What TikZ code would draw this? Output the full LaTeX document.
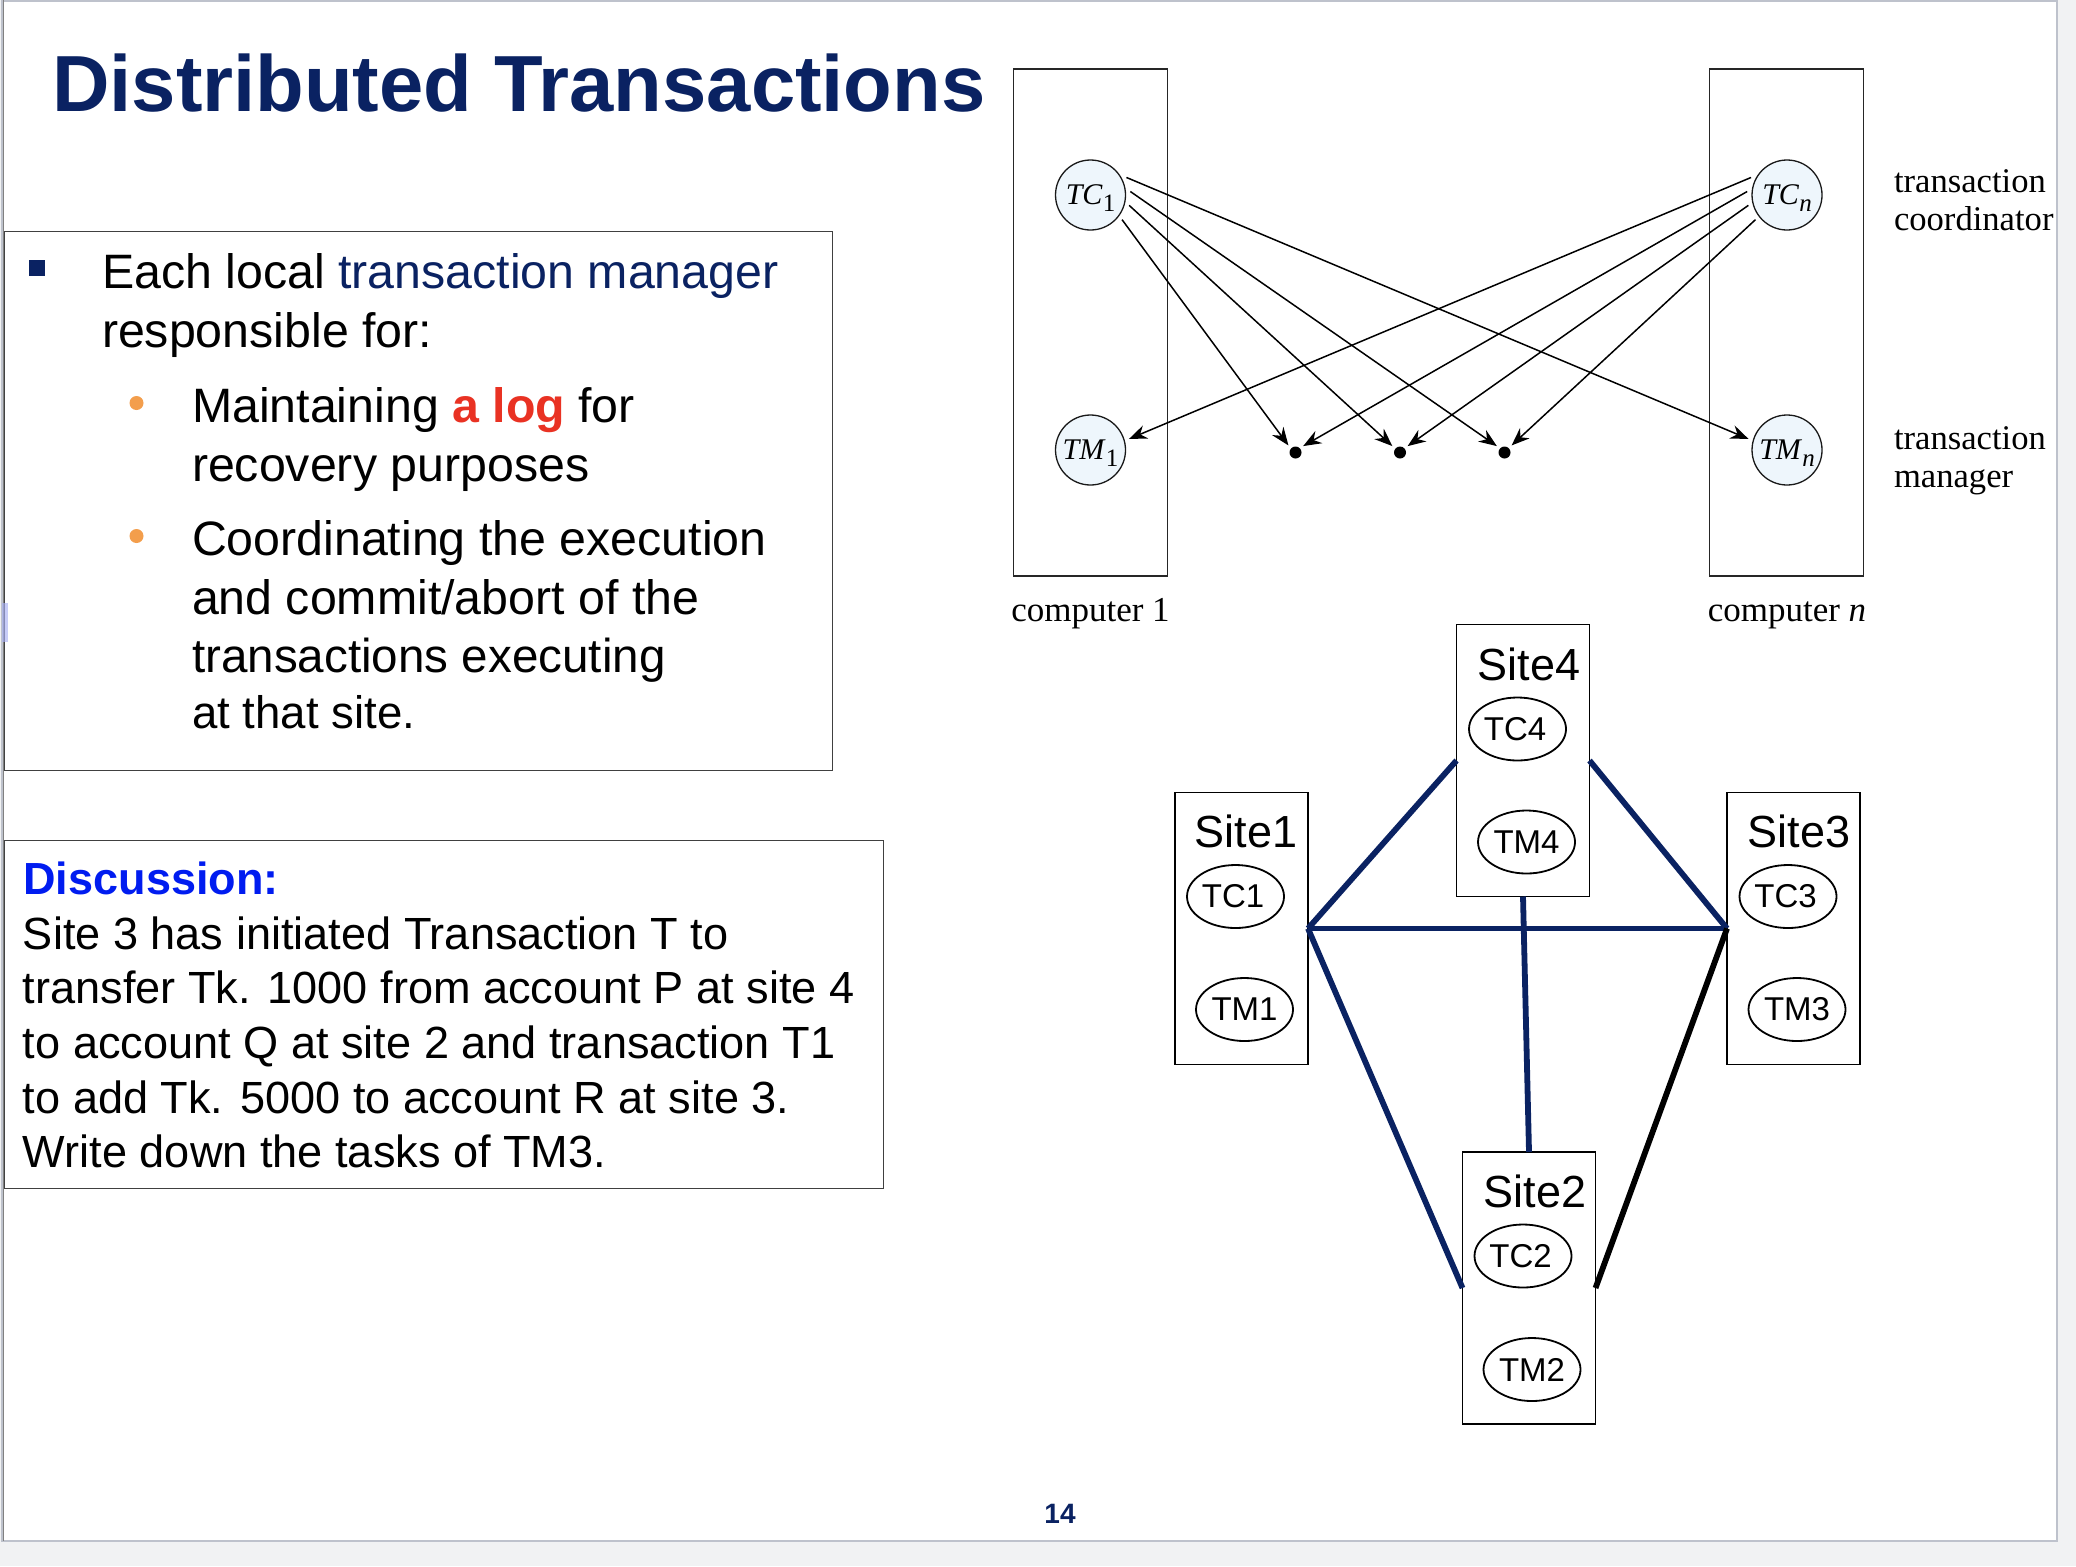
\documentclass[tikz,border=0pt]{standalone}
\usepackage{fontspec}
\setmainfont{Liberation Sans}
\newfontfamily\serifbook{Liberation Serif}
\usetikzlibrary{arrows.meta,shapes.geometric}
\definecolor{navy}{RGB}{10,34,98}
\definecolor{orangeb}{RGB}{243,158,76}
\definecolor{redlog}{RGB}{233,50,35}
\definecolor{bluedisc}{RGB}{0,28,240}
\definecolor{tcfill}{RGB}{238,246,252}
\definecolor{pagebg}{RGB}{241,242,243}
\definecolor{pageedge}{RGB}{190,194,204}
\definecolor{markblue}{RGB}{170,178,245}
\newcommand{\fs}[1]{\fontsize{#1}{#1}\selectfont}
\newcommand{\subsc}[1]{\smash{\raisebox{-7pt}{\fs{25}#1}}}
\tikzset{
  x=1pt,y=-1pt,
  txt/.style={anchor=base west,inner sep=0,outer sep=0,font=\fs{48.3}},
  disc/.style={anchor=base west,inner sep=0,outer sep=0,font=\fs{45.1}},
  lab/.style={anchor=base west,inner sep=0,outer sep=0,font=\serifbook\fs{34.6}},
  complab/.style={anchor=base,inner sep=0,outer sep=0,font=\serifbook\fs{35}},
  textbox/.style={draw=black!75,line width=1pt,fill=white,inner sep=0,outer sep=0},
  compbox/.style={draw=black!85,line width=1.6pt,inner sep=0,outer sep=0,minimum width=154pt,minimum height=507pt},
  tcnode/.style={circle,draw=black!90,line width=1.3pt,fill=tcfill,inner sep=0,minimum size=70pt,outer sep=5pt,font=\serifbook\fs{30}},
  jdot/.style={circle,fill=black,inner sep=0,minimum size=12pt,outer sep=4pt},
  arr/.style={line width=1.5pt,-{Stealth[length=18pt,width=14pt,inset=6pt]}},
  sitebox/.style={draw=black,line width=1.8pt,inner sep=0,outer sep=0,minimum width=133pt,minimum height=272pt},
  sitelab/.style={anchor=base,inner sep=0,outer sep=0,font=\fs{45}},
  ell/.style={ellipse,draw=black,line width=1.8pt,inner sep=0,minimum width=97pt,minimum height=63pt,font=\fs{33}},
  link/.style={navy,line width=5.8pt},
}
\begin{document}
\begin{tikzpicture}
\useasboundingbox (0,0) rectangle (2076,1566);
\fill[pagebg] (0,0) rectangle (2076,1566);
\draw[pageedge,line width=2pt,fill=white] (2,1) rectangle (2057,1541);
\draw[black!50,line width=1.2pt] (3.8,0) -- (3.8,1541);

% title
\node[anchor=base west,inner sep=0,text=navy,font=\bfseries\fs{79.6}] (title) at (52,111) {Distributed Transactions};

% first text box
\node[textbox,anchor=north west,minimum width=828pt,minimum height=539pt] (box1) at (4,231) {};
\node[fill=navy,inner sep=0,minimum size=16pt] (sq) at (37,268) {};
\node[txt] (l1) at (102,288) {Each local \textcolor{navy}{transaction manager}};
\node[txt] (l2) at (102,347) {responsible for:};
\node[circle,fill=orangeb,inner sep=0,minimum size=14pt] (b1) at (136.5,403) {};
\node[txt] (l3) at (192,422.5) {Maintaining \textcolor{redlog}{\bfseries a log} for};
\node[txt] (l4) at (192,481) {recovery purposes};
\node[circle,fill=orangeb,inner sep=0,minimum size=14pt] (b2) at (136.5,536) {};
\node[txt] (l5) at (192,555) {Coordinating the execution};
\node[txt] (l6) at (192,614) {and commit/abort of the};
\node[txt,font=\fs{47.6}] (l7) at (192,672) {transactions executing};
\node[txt,font=\fs{45.6}] (l8) at (192,728) {at that site.};

% discussion box
\node[textbox,anchor=north west,minimum width=879pt,minimum height=348pt] (box2) at (4,840) {};
\node[disc,text=bluedisc,font=\bfseries\fs{45}] (d0) at (23.5,894) {Discussion:};
\node[disc] (d1) at (23,949) {Site 3 has initiated Transaction T to};
\node[disc] (d2) at (23,1003) {transfer Tk. 1000 from account P at site 4};
\node[disc] (d3) at (23,1058.5) {to account Q at site 2 and transaction T1};
\node[disc] (d4) at (23,1113.5) {to add Tk. 5000 to account R at site 3.};
\node[disc] (d5) at (23,1167.5) {Write down the tasks of TM3.};

% page number
\node[anchor=base,inner sep=0,text=navy,font=\bfseries\fs{28}] (pg) at (1060,1523) {14};

% computers
\node[compbox] (comp1) at (1090.5,322.5) {};
\node[compbox] (compn) at (1786.5,322.5) {};
\node[tcnode] (tc1) at (1090.5,195) {\textit{TC}\subsc{1}};
\node[tcnode] (tm1) at (1090.5,450) {\textit{TM}\subsc{1}};
\node[tcnode] (tcn) at (1787,195) {\textit{TC}\subsc{\textit{n}}};
\node[tcnode] (tmn) at (1787,450) {\textit{TM}\subsc{\textit{n}}};
\node[jdot] (p1) at (1295.5,452.5) {};
\node[jdot] (p2) at (1400,452.5) {};
\node[jdot] (p3) at (1504.5,452.5) {};

\draw[arr] (tc1.26) -- (tmn.164);
\draw[arr] (tc1.5) -- (p3.140);
\draw[arr] (tc1.-15) -- (p2.140);
\draw[arr] (tc1.-38) -- (p1.135);
\draw[arr] (tcn.154) -- (tm1.16);
\draw[arr] (tcn.175) -- (p1.40);
\draw[arr] (tcn.195) -- (p2.40);
\draw[arr] (tcn.218) -- (p3.45);

\node[lab] (t1) at (1894,192) {transaction};
\node[lab] (t2) at (1894,230) {coordinator};
\node[lab] (t3) at (1894,449) {transaction};
\node[lab] (t4) at (1894,487) {manager};
\node[complab] (c1) at (1090.5,621) {computer 1};
\node[complab] (cn) at (1787,621) {computer \textit{n}};

% sites
\node[sitebox] (site4) at (1523,760.5) {};
\node[sitebox] (site1) at (1241.5,928.5) {};
\node[sitebox] (site3) at (1793.5,928.5) {};
\node[sitebox] (site2) at (1529,1288) {};

\draw[link] (site4.west) -- (site1.east);
\draw[link] (site4.east) -- (site3.west);
\draw[link] (site1.east) -- (site3.west);
\draw[link] (site4.south) -- (site2.north);
\draw[link] (site1.east) -- (site2.west);
\draw[line width=5.8pt,black] (site3.west) -- (site2.east);

\node[sitelab] (s4) at (1529,680) {Site4};
\node[sitelab] (s1) at (1246,847) {Site1};
\node[sitelab] (s3) at (1799,847) {Site3};
\node[sitelab] (s2) at (1535,1207.5) {Site2};
\node[ell] (e4c) at (1517.5,729) {\hspace*{-5pt}TC4};
\node[ell] (e4m) at (1526.5,842) {TM4};
\node[ell] (e1c) at (1235.5,896.5) {\hspace*{-5pt}TC1};
\node[ell] (e1m) at (1244.5,1009.5) {TM1};
\node[ell] (e3c) at (1788,896.5) {\hspace*{-5pt}TC3};
\node[ell] (e3m) at (1797,1009.5) {TM3};
\node[ell] (e2c) at (1523,1256) {\hspace*{-5pt}TC2};
\node[ell] (e2m) at (1532,1369.5) {TM2};

% selection mark at the left edge
\fill[markblue,opacity=0.65] (2,603) rectangle (8,642);
\end{tikzpicture}
\end{document}
